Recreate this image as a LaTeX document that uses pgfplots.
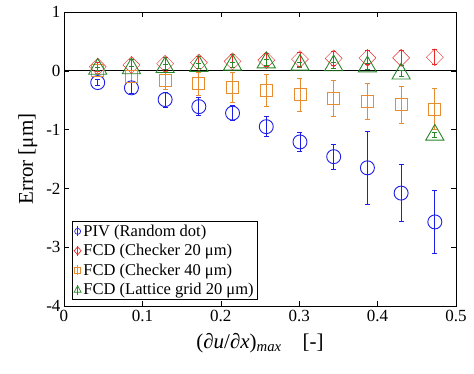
\documentclass[border=0pt]{standalone}
\usepackage{fontspec}
\setmainfont{Liberation Serif}
\usepackage{pgfplots}
\usepackage{pgfplotstable}
\pgfplotsset{compat=1.18}
\definecolor{cpiv}{RGB}{30,30,235}
\definecolor{cred}{RGB}{235,40,40}
\definecolor{corg}{RGB}{232,140,50}
\definecolor{cgrn}{RGB}{40,135,40}
\pgfplotstableread{
x y ey
0.043 -0.20 0.05
0.086 -0.29 0.10
0.129 -0.49 0.13
0.172 -0.61 0.15
0.215 -0.72 0.13
0.258 -0.95 0.17
0.301 -1.21 0.17
0.344 -1.46 0.21
0.387 -1.65 0.62
0.430 -2.08 0.49
0.473 -2.57 0.54
}\tabpiv
\pgfplotstableread{
x y ey
0.043 0.07 0.08
0.086 0.10 0.09
0.129 0.12 0.10
0.172 0.14 0.10
0.215 0.16 0.11
0.258 0.18 0.11
0.301 0.20 0.12
0.344 0.21 0.12
0.387 0.22 0.12
0.430 0.22 0.13
0.473 0.23 0.13
}\tabred
\pgfplotstableread{
x y ey
0.043 0.00 0.05
0.086 -0.10 0.10
0.129 -0.16 0.15
0.172 -0.22 0.20
0.215 -0.28 0.25
0.258 -0.33 0.27
0.301 -0.41 0.28
0.344 -0.47 0.30
0.387 -0.52 0.31
0.430 -0.58 0.32
0.473 -0.65 0.35
}\taborg
\pgfplotstableread{
x y ey
0.043 0.03 0.03
0.086 0.04 0.03
0.129 0.06 0.04
0.172 0.08 0.04
0.215 0.10 0.05
0.258 0.14 0.05
0.301 0.10 0.05
0.344 0.09 0.05
0.387 0.07 0.05
0.430 -0.05 0.05
0.473 -1.09 0.05
}\tabgrn
\pgfplotsset{
  eb/.style={only marks, draw=#1, color=#1,
    mark options={line width=0.9pt, draw=#1, fill=none, solid},
    /pgfplots/error bars/y dir=both, /pgfplots/error bars/y explicit,
    /pgfplots/error bars/error bar style={line width=0.9pt, draw=#1, solid},
    /pgfplots/error bars/error mark options={rotate=90, mark size=2.5pt, line width=0.9pt, draw=#1}},
}
\begin{document}
\begin{tikzpicture}
\begin{axis}[
  scale only axis, width=392pt, height=294pt,
  xmin=0, xmax=0.5, ymin=-4, ymax=1,
  xtick={0,0.1,...,0.5}, ytick={-4,-3,-2,-1,0,1},
  xticklabels={0,0.1,0.2,0.3,0.4,0.5},
  tick align=inside, tick pos=both, major tick length=5pt,
  axis line style={line width=0.6pt},
  every tick/.style={line width=0.6pt, draw=black},
  /pgf/number format/assume math mode=true,
  tick label style={font=\fontsize{17}{17}\selectfont},
  xticklabel style={yshift=-1pt},
  xlabel={(\textit{∂u}/\textit{∂x})\textsubscript{\textit{max}}\quad[-]},
  ylabel={Error [μm]},
  label style={font=\fontsize{21}{21}\selectfont},
  xlabel style={yshift=-4pt},
  ylabel style={yshift=2pt},
  legend style={at={(0.02,0.02)}, anchor=south west, font=\fontsize{16.5}{17}\selectfont, draw=black, line width=0.9pt, inner sep=1.5pt, row sep=2.5pt},
  legend cell align=left,
]
\addplot[draw=black, line width=0.8pt, forget plot] coordinates {(0,0) (0.5,0)};
\addplot[eb=cpiv, mark=o, mark size=7pt,
  legend image code/.code={\draw[draw=cpiv,line width=0.7pt] (0.15cm,-5pt)--(0.15cm,5pt); \draw[draw=cpiv,line width=0.7pt] (0.15cm,0pt) circle (3pt);}]
  table[x=x,y=y,y error=ey] {\tabpiv};
\addlegendentry{PIV (Random dot)}
\addplot[eb=cred, mark=square, mark size=6pt, mark options={rotate=45},
  legend image code/.code={\draw[draw=cred,line width=0.7pt] (0.15cm,-5pt)--(0.15cm,5pt); \draw[draw=cred,line width=0.7pt] (0.15cm,4pt)--(0.15cm+3.5pt,0pt)--(0.15cm,-4pt)--(0.15cm-3.5pt,0pt)--cycle;}]
  table[x=x,y=y,y error=ey] {\tabred};
\addlegendentry{FCD (Checker 20 μm)}
\addplot[eb=corg, mark=square, mark size=6pt,
  legend image code/.code={\draw[draw=corg,line width=0.7pt] (0.15cm,-5pt)--(0.15cm,5pt); \draw[draw=corg,line width=0.7pt] (0.15cm-3pt,-3pt) rectangle (0.15cm+3pt,3pt);}]
  table[x=x,y=y,y error=ey] {\taborg};
\addlegendentry{FCD (Checker 40 μm)}
\addplot[eb=cgrn, mark=triangle, mark size=10.5pt,
  legend image code/.code={\draw[draw=cgrn,line width=0.7pt] (0.15cm,-5pt)--(0.15cm,5pt); \draw[draw=cgrn,line width=0.7pt] (0.15cm,4pt)--(0.15cm+3.5pt,-2.5pt)--(0.15cm-3.5pt,-2.5pt)--cycle;}]
  table[x=x,y=y,y error=ey] {\tabgrn};
\addlegendentry{FCD (Lattice grid 20 μm)}
\end{axis}
\path (current axis.south west) ++(-64pt,-67pt) coordinate (bbA);
\path (current axis.north east) ++(18pt,12pt) coordinate (bbB);
\path (bbA) (bbB);
\end{tikzpicture}
\end{document}
